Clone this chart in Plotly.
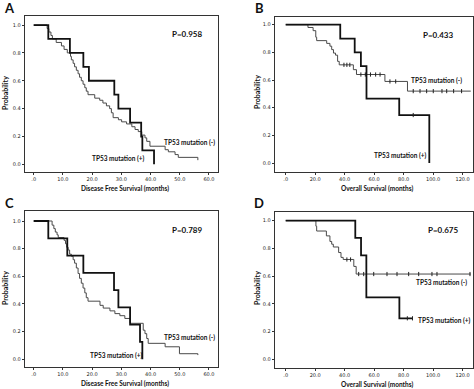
import plotly.graph_objects as go

# ---------------- data ----------------
# Panel A: Disease free survival
a_pos_t = [0, 5.0, 12.4, 17.0, 18.9, 27.6, 29.0, 33.0, 36.8, 37.2, 41.2]
a_pos_s = [1.0, 0.9, 0.8, 0.7, 0.6, 0.5, 0.4, 0.3, 0.2, 0.1, 0.0]
a_neg_t = [0, 4.6, 5.2, 5.9, 6.4, 7.7, 9.5, 10.4, 11.5, 12.6, 12.9, 13.5, 14.0, 14.6, 15.2,
           15.7, 16.3, 16.9, 17.5, 18.0, 18.6, 20.9, 22.6, 23.7, 24.9, 26.0, 26.6, 27.2,
           29.0, 30.1, 31.8, 33.6, 34.7, 35.8, 37.0, 38.1, 38.7, 39.8, 45.0, 46.1, 48.4,
           49.5, 56.2]
a_neg_s = [1.0, 0.975, 0.95, 0.925, 0.90, 0.875, 0.85, 0.825, 0.80, 0.775, 0.75, 0.725, 0.70,
           0.675, 0.65, 0.625, 0.60, 0.575, 0.55, 0.525, 0.50, 0.475, 0.46, 0.44, 0.42, 0.40,
           0.37, 0.335, 0.32, 0.305, 0.29, 0.27, 0.25, 0.235, 0.21, 0.19, 0.165, 0.13, 0.105,
           0.09, 0.07, 0.05, 0.03]

# Panel B: Overall survival
b_pos_t = [0, 37.0, 46.8, 51.0, 54.8, 77.0, 97.4]
b_pos_s = [1.0, 0.9, 0.8, 0.7, 0.465, 0.347, 0.0]
b_pos_cens_t = [86.5]
b_pos_cens_s = [0.347]
b_neg_t = [0, 15.1, 18.6, 20.4, 21.0, 27.8, 30.0, 31.2, 32.4, 33.8, 35.2, 36.3, 45.9, 48.0,
           67.3, 82.6, 125.5]
b_neg_s = [1.0, 0.98, 0.957, 0.91, 0.885, 0.865, 0.845, 0.82, 0.795, 0.78, 0.735, 0.71,
           0.675, 0.64, 0.59, 0.52, 0.52]
b_neg_cens_t = [39.5, 41.5, 43.5, 51.0, 54.0, 57.5, 61.0, 64.0, 70.7, 74.6, 86.5, 91.1, 95.6,
                100.1, 106.0, 109.2, 113.9, 119.3]
b_neg_cens_s = [0.71, 0.71, 0.71, 0.64, 0.64, 0.64, 0.64, 0.64, 0.59, 0.59, 0.52, 0.52, 0.52,
                0.52, 0.52, 0.52, 0.52, 0.52]

# Panel C: Disease free survival
c_pos_t = [0, 5.0, 11.5, 17.0, 27.5, 29.0, 33.0, 36.4, 37.2]
c_pos_s = [1.0, 0.875, 0.75, 0.625, 0.5, 0.375, 0.25, 0.125, 0.0]
c_neg_t = [0, 6.3, 6.9, 7.4, 8.0, 8.4, 10.4, 10.9, 11.3, 11.8, 12.3, 12.9, 13.5, 14.0, 14.6,
           15.2, 15.7, 16.3, 16.9, 17.5, 18.0, 18.6, 22.7, 23.8, 26.1, 27.8, 29.5, 31.2, 33.0,
           37.5, 38.1, 38.7, 39.2, 45.0, 49.9, 56.2]
c_neg_s = [1.0, 0.97, 0.945, 0.92, 0.90, 0.88, 0.86, 0.835, 0.81, 0.79, 0.76, 0.745, 0.72,
           0.695, 0.66, 0.62, 0.585, 0.55, 0.515, 0.48, 0.445, 0.42, 0.39, 0.37, 0.35, 0.33,
           0.315, 0.295, 0.26, 0.21, 0.185, 0.15, 0.115, 0.09, 0.04, 0.03]

# Panel D: Overall survival
d_pos_t = [0, 47.2, 51.1, 54.7, 77.1, 86.0]
d_pos_s = [1.0, 0.875, 0.75, 0.447, 0.296, 0.296]
d_pos_cens_t = [82.5, 86.0]
d_pos_cens_s = [0.296, 0.296]
d_neg_t = [0, 20.5, 21.0, 27.6, 30.0, 31.2, 32.3, 35.9, 37.5, 39.0, 46.2, 47.8, 125.5]
d_neg_s = [1.0, 0.96, 0.925, 0.89, 0.85, 0.83, 0.81, 0.77, 0.735, 0.72, 0.67, 0.615, 0.615]
d_neg_cens_t = [41.5, 44.0, 49.5, 52.9, 59.7, 68.7, 75.5, 83.4, 90.2, 99.2, 102.6, 125.0]
d_neg_cens_s = [0.72, 0.72, 0.615, 0.615, 0.615, 0.615, 0.615, 0.615, 0.615, 0.615, 0.615,
                0.615]

dfs_ticks = [0, 10, 20, 30, 40, 50, 60]
dfs_ticktext = [".0", "10.0", "20.0", "30.0", "40.0", "50.0", "60.0"]
os_ticks = [0, 20, 40, 60, 80, 100, 120]
os_ticktext = [".0", "20.0", "40.0", "60.0", "80.0", "100.0", "120.0"]
y_ticks = [0, 0.2, 0.4, 0.6, 0.8, 1.0]
y_ticktext = ["0.0", "0.2", "0.4", "0.6", "0.8", "1.0"]

p_values = ["P=0.958", "P=0.433", "P=0.789", "P=0.675"]
panel_letters = ["A", "B", "C", "D"]
x_titles = ["Disease Free Survival (months)", "Overall Survival (months)",
            "Disease Free Survival (months)", "Overall Survival (months)"]

# ---------------- figure ----------------
W, H = 474, 389
fig = go.Figure()

THICK = dict(color="#111111", width=1.8, shape="hv")
THIN = dict(color="#4a4a4a", width=1.0, shape="hv")

def add_curve(t, s, line, ax):
    fig.add_trace(go.Scatter(x=t, y=s, mode="lines", line=line, xaxis="x" + ax,
                             yaxis="y" + ax, showlegend=False, hoverinfo="skip"))

def add_cens(t, s, ax):
    fig.add_trace(go.Scatter(x=t, y=s, mode="markers",
                             marker=dict(symbol="line-ns", size=3,
                                         line=dict(color="#222222", width=1)),
                             xaxis="x" + ax, yaxis="y" + ax, showlegend=False,
                             hoverinfo="skip"))

add_curve(a_neg_t, a_neg_s, THIN, "")
add_curve(a_pos_t, a_pos_s, THICK, "")
add_curve(b_neg_t, b_neg_s, THIN, "2")
add_cens(b_neg_cens_t, b_neg_cens_s, "2")
add_curve(b_pos_t, b_pos_s, THICK, "2")
add_cens(b_pos_cens_t, b_pos_cens_s, "2")
add_curve(c_neg_t, c_neg_s, THIN, "3")
add_curve(c_pos_t, c_pos_s, THICK, "3")
add_curve(d_neg_t, d_neg_s, THIN, "4")
add_cens(d_neg_cens_t, d_neg_cens_s, "4")
add_curve(d_pos_t, d_pos_s, THICK, "4")
add_cens(d_pos_cens_t, d_pos_cens_s, "4")

def px(x0, x1):
    return [x0 / W, x1 / W]

def py(top, bottom):
    return [1 - bottom / H, 1 - top / H]

tickfont = dict(family="DejaVu Sans", size=5, color="#222222")
common_x = dict(showgrid=False, zeroline=False, showline=True, linecolor="#333333",
                linewidth=1, mirror=True, ticks="outside", ticklen=2, tickwidth=1,
                tickcolor="#333333", tickfont=tickfont)
common_y = dict(common_x)

layout = dict(
    width=W, height=H, margin=dict(l=0, r=0, t=0, b=0),
    paper_bgcolor="white", plot_bgcolor="white",
    xaxis=dict(common_x, domain=px(24.7, 218), range=[-3.08, 63.1], tickvals=dfs_ticks,
               ticktext=dfs_ticktext, anchor="y"),
    yaxis=dict(common_y, domain=py(15.7, 172), range=[-0.055, 1.067], tickvals=y_ticks,
               ticktext=y_ticktext, anchor="x"),
    xaxis2=dict(common_x, domain=px(274.7, 472.5), range=[-7.46, 126.7], tickvals=os_ticks,
                ticktext=os_ticktext, anchor="y2"),
    yaxis2=dict(common_y, domain=py(16.7, 172.3), range=[-0.067, 1.058], tickvals=y_ticks,
                ticktext=y_ticktext, anchor="x2"),
    xaxis3=dict(common_x, domain=px(24.7, 218), range=[-3.08, 63.1], tickvals=dfs_ticks,
                ticktext=dfs_ticktext, anchor="y3"),
    yaxis3=dict(common_y, domain=py(210.5, 366.7), range=[-0.054, 1.076], tickvals=y_ticks,
                ticktext=y_ticktext, anchor="x3"),
    xaxis4=dict(common_x, domain=px(274.7, 472.5), range=[-7.46, 126.7], tickvals=os_ticks,
                ticktext=os_ticktext, anchor="y4"),
    yaxis4=dict(common_y, domain=py(212.3, 367.7), range=[-0.06, 1.06], tickvals=y_ticks,
                ticktext=y_ticktext, anchor="x4"),
)
fig.update_layout(**layout)

FONT = "Lato"
ann = []

def text(x, y, s, size, bold=True, anchor="center", angle=0, color="#111111"):
    ann.append(dict(x=x / W, y=1 - y / H, xref="paper", yref="paper", text=s,
                    showarrow=False, xanchor=anchor, yanchor="middle", textangle=angle,
                    font=dict(family=FONT, size=size, color=color,
                              weight="bold" if bold else "normal")))

# panel letters
for (lx, ly), L in zip([(9, 8), (259, 8), (9, 203), (259, 203)], panel_letters):
    text(lx, ly, L, 13, anchor="center")
# P values
for (lx, ly), P in zip([(187, 34), (438, 35), (187, 230), (443, 230)], p_values):
    text(lx, ly, P, 8)
# y titles
for lx, ly in [(5, 93), (257, 92), (5, 288), (257, 288)]:
    text(lx, ly, "Probability", 7, angle=-90)
# x titles
for (lx, ly), T in zip([(125, 188), (377, 188), (125, 383), (377, 384)], x_titles):
    text(lx, ly, T, 6.5)
# curve labels
labels = [
    (162, 142, "TP53 mutation (-)"), (90, 158, "TP53 mutation (+)"),
    (409, 81, "TP53 mutation (-)"), (372, 155, "TP53 mutation (+)"),
    (162, 337, "TP53 mutation (-)"), (88, 355, "TP53 mutation (+)"),
    (414, 282, "TP53 mutation (-)"), (416, 320, "TP53 mutation (+)"),
]
for lx, ly, s in labels:
    text(lx, ly, s, 6.5, bold=True, anchor="left")

fig.update_layout(annotations=ann)
fig.write_html("out.html", config={"displayModeBar": False},
               post_script="document.body.style.margin='0';document.body.style.overflow='hidden';")
